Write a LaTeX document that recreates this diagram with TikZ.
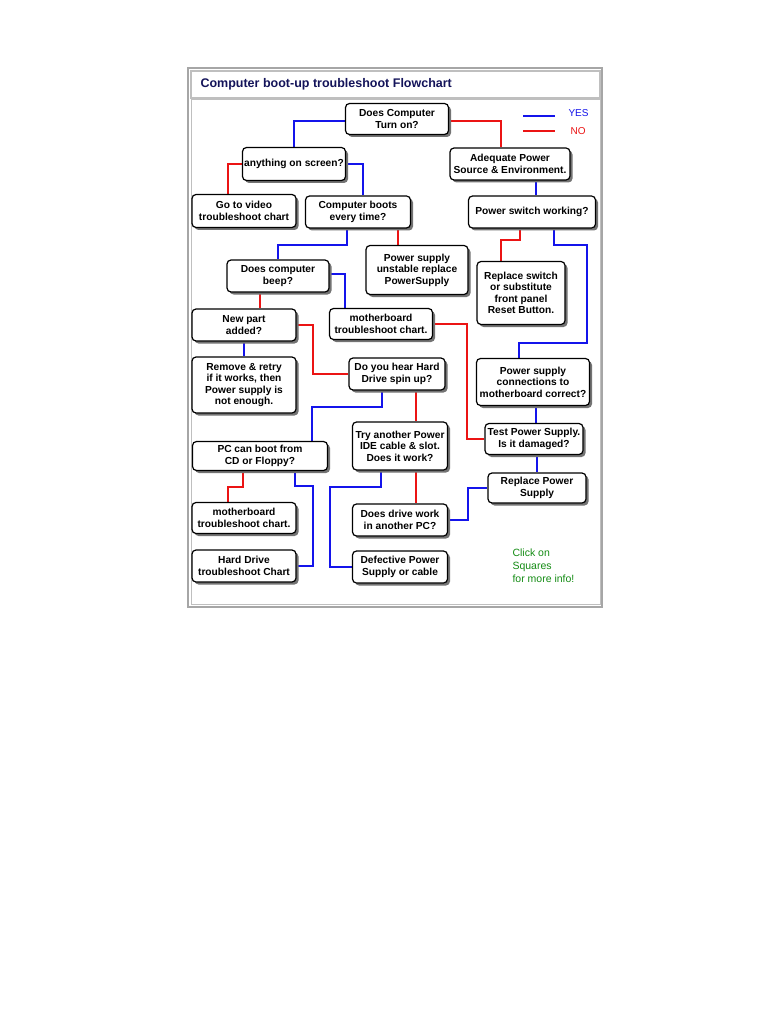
\documentclass[tikz,border=0pt]{standalone}
\usepackage{fontspec}
\setmainfont{Liberation Sans}
\usetikzlibrary{backgrounds,shadows}
\begin{document}
\begin{tikzpicture}[x=1pt,y=-1pt,
  box/.style={draw=black,line width=1.2pt,fill=white,rounded corners=4pt,align=center,inner sep=0pt,
    font=\fontsize{10.2}{11.4}\selectfont\bfseries,
    general shadow={fill=black!55,shadow xshift=2.5pt,shadow yshift=-2.5pt}},
  yes/.style={draw={rgb,255:red,20;green,20;blue,235},line width=2.6pt},
  no/.style={draw={rgb,255:red,235;green,20;blue,20},line width=2.6pt}]
\useasboundingbox (0,0) rectangle (768,1024);
\begin{scope}[on background layer]
\fill[white] (0,0) rectangle (768,1024);
\draw[gray!70,line width=2pt] (188,68) rectangle (602,607);
\draw[gray!50,line width=1.5pt] (191,71) rectangle (600,98);
\draw[gray!50,line width=1pt] (191,100) rectangle (600,604);
\end{scope}
\node[anchor=west,font=\fontsize{12.5}{14}\selectfont\bfseries,text={rgb,255:red,20;green,20;blue,90}] (title) at (197,84) {Computer boot-up troubleshoot Flowchart};
\node[box,minimum width=103,minimum height=31] (dct) at (397,119) {Does Computer\\Turn on?};
\node[box,minimum width=103,minimum height=33] (any) at (294,164) {anything on screen?};
\node[box,minimum width=120,minimum height=32] (adq) at (510,164) {Adequate Power\\Source \& Environment.};
\node[box,minimum width=104,minimum height=33] (vid) at (244,211) {Go to video\\troubleshoot chart};
\node[box,minimum width=105,minimum height=32] (boots) at (358,212) {Computer boots\\every time?};
\node[box,minimum width=127,minimum height=32] (psw) at (532,212) {Power switch working?};
\node[box,minimum width=102,minimum height=49] (psu) at (417,270) {Power supply\\unstable replace\\PowerSupply};
\node[box,minimum width=102,minimum height=32] (beep) at (278,276) {Does computer\\beep?};
\node[box,minimum width=88,minimum height=63] (rsw) at (521,293) {Replace switch\\or substitute\\front panel\\Reset Button.};
\node[box,minimum width=104,minimum height=32] (newp) at (244,325) {New part\\added?};
\node[box,minimum width=103,minimum height=31] (mb1) at (381,324) {motherboard\\troubleshoot chart.};
\node[box,minimum width=104,minimum height=56] (rem) at (244,385) {Remove \& retry\\if it works, then\\Power supply is\\not enough.};
\node[box,minimum width=96,minimum height=32] (hd) at (397,374) {Do you hear Hard\\Drive spin up?};
\node[box,minimum width=113,minimum height=47] (psc) at (533,382) {Power supply\\connections to\\motherboard correct?};
\node[box,minimum width=95,minimum height=48] (try) at (400,446) {Try another Power\\IDE cable \& slot.\\Does it work?};
\node[box,minimum width=135,minimum height=29] (pcb) at (260,456) {PC can boot from\\CD or Floppy?};
\node[box,minimum width=98,minimum height=31] (tps) at (534,439) {Test Power Supply.\\Is it damaged?};
\node[box,minimum width=98,minimum height=30] (rps) at (537,488) {Replace Power\\Supply};
\node[box,minimum width=104,minimum height=31] (mb2) at (244,518) {motherboard\\troubleshoot chart.};
\node[box,minimum width=95,minimum height=32] (drv) at (400,520) {Does drive work\\in another PC?};
\node[box,minimum width=104,minimum height=32] (hdt) at (244,566) {Hard Drive\\troubleshoot Chart};
\node[box,minimum width=95,minimum height=32] (def) at (400,567) {Defective Power\\Supply or cable};
\node[anchor=north west,align=left,font=\fontsize{10.5}{13}\selectfont,text={rgb,255:red,20;green,140;blue,20}] (click) at (509,545) {Click on\\Squares\\for more info!};
\coordinate (ly1) at (523,116); \coordinate (ly2) at (555,116);
\coordinate (ln1) at (523,131); \coordinate (ln2) at (555,131);
\node[anchor=west,font=\fontsize{10}{12}\selectfont,text={rgb,255:red,20;green,20;blue,235}] (lyes) at (565,113) {YES};
\node[anchor=west,font=\fontsize{10}{12}\selectfont,text={rgb,255:red,235;green,20;blue,20}] (lno) at (567,131) {NO};
\begin{scope}[on background layer]
\draw[yes] (ly1) -- (ly2);
\draw[no] (ln1) -- (ln2);
\draw[yes] ([yshift=-2]dct.west) -| (any.north);
\draw[no] ([yshift=-2]dct.east) -| ([xshift=-9]adq.north);
\draw[no] (any.west) -| ([xshift=-16]vid.north);
\draw[yes] (any.east) -| ([xshift=5]boots.north);
\draw[yes] ([xshift=26]adq.south) -- ([xshift=26]adq.south |- psw.north);
\draw[yes] ([xshift=-11]boots.south) |- (278,245) -- (beep.north);
\draw[no] ([xshift=40]boots.south) -- ([xshift=40]boots.south |- psu.north);
\draw[no] ([xshift=-12]psw.south) |- (501,240) -- ([xshift=-20]rsw.north);
\draw[yes] ([xshift=22]psw.south) |- (587,245) |- (519,343) -- ([xshift=-14]psc.north);
\draw[no] ([xshift=-18]beep.south) -- ([xshift=-18]beep.south |- newp.north);
\draw[yes] ([yshift=2]beep.east) -| ([xshift=-36]mb1.north);
\draw[no] (newp.east) -- (313,325) |- (hd.west);
\draw[yes] (newp.south) -- (rem.north);
\draw[no] (mb1.east) -- (467,324) |- (tps.west);
\draw[yes] ([xshift=-15]hd.south) |- (312,407) -- (312,441);
\draw[no] ([xshift=19]hd.south) -- ([xshift=19]hd.south |- try.north);
\draw[yes] ([xshift=3]psc.south) -- ([xshift=3]psc.south |- tps.north);
\draw[yes] ([xshift=3]tps.south) -- ([xshift=3]tps.south |- rps.north);
\draw[yes] ([xshift=-19]try.south) |- (330,487) |- (def.west);
\draw[no] ([xshift=16]try.south) -- ([xshift=16]try.south |- drv.north);
\draw[yes] (drv.east) -- (468,520) |- (rps.west);
\draw[no] ([xshift=-17]pcb.south) |- (228,487) -- (228,502);
\draw[yes] ([xshift=35]pcb.south) |- (313,486) |- (hdt.east);
\end{scope}
\end{tikzpicture}
\end{document}
